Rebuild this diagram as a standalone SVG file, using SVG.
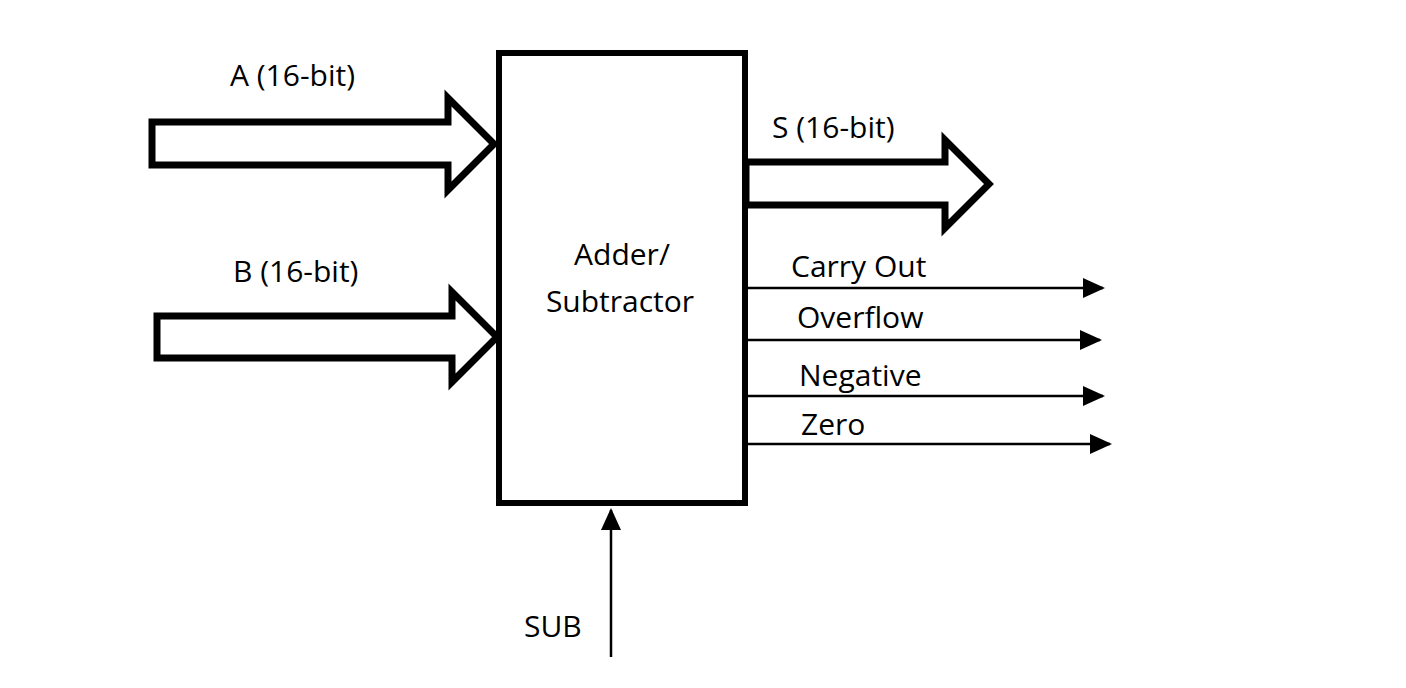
<svg xmlns="http://www.w3.org/2000/svg" width="1406" height="688" viewBox="0 0 1406 688">
<style>
.blk{fill:#fff;stroke:#000;stroke-width:7;stroke-linejoin:miter}
.ln{stroke:#000;stroke-width:2.5;fill:none}
text{font-family:"Open Sans","Liberation Sans",sans-serif;font-size:30px;fill:#000}
</style>
<defs>
<marker id="ah" markerWidth="22" markerHeight="20" refX="20" refY="10" orient="auto" markerUnits="userSpaceOnUse">
<path d="M0,0 L22,10 L0,20 Z" fill="#000"/>
</marker>
</defs>
<rect width="1406" height="688" fill="#fff"/>
<g id="connectors">
<path id="busA" class="blk" d="M152,122 H448 V98 L494,144 L448,190 V165 H152 Z"/>
<path id="busB" class="blk" d="M157,316 H452 V292 L497,337 L452,382 V358 H157 Z"/>
<path id="busS" class="blk" d="M746,162 H945 V140 L989,184 L945,228 V205 H746 Z"/>
<line class="ln" x1="746" y1="288" x2="1103" y2="288" marker-end="url(#ah)"/>
<line class="ln" x1="746" y1="340" x2="1100" y2="340" marker-end="url(#ah)"/>
<line class="ln" x1="746" y1="396" x2="1103" y2="396" marker-end="url(#ah)"/>
<line class="ln" x1="746" y1="444" x2="1110" y2="444" marker-end="url(#ah)"/>
<line class="ln" x1="611" y1="657" x2="611" y2="510" marker-end="url(#ah)"/>
</g>
<g id="adder">
<rect x="499" y="53" width="246" height="450" fill="#fff" stroke="#000" stroke-width="6"/>
<text x="622" y="265" text-anchor="middle">Adder/</text>
<text x="620" y="312" text-anchor="middle">Subtractor</text>
</g>
<g id="labels">
<text x="230" y="86">A (16-bit)</text>
<text x="233" y="282">B (16-bit)</text>
<text x="772" y="138">S (16-bit)</text>
<text x="791" y="277">Carry Out</text>
<text x="797" y="328">Overflow</text>
<text x="799" y="386">Negative</text>
<text x="801" y="435">Zero</text>
<text x="524" y="637">SUB</text>
</g>
</svg>
